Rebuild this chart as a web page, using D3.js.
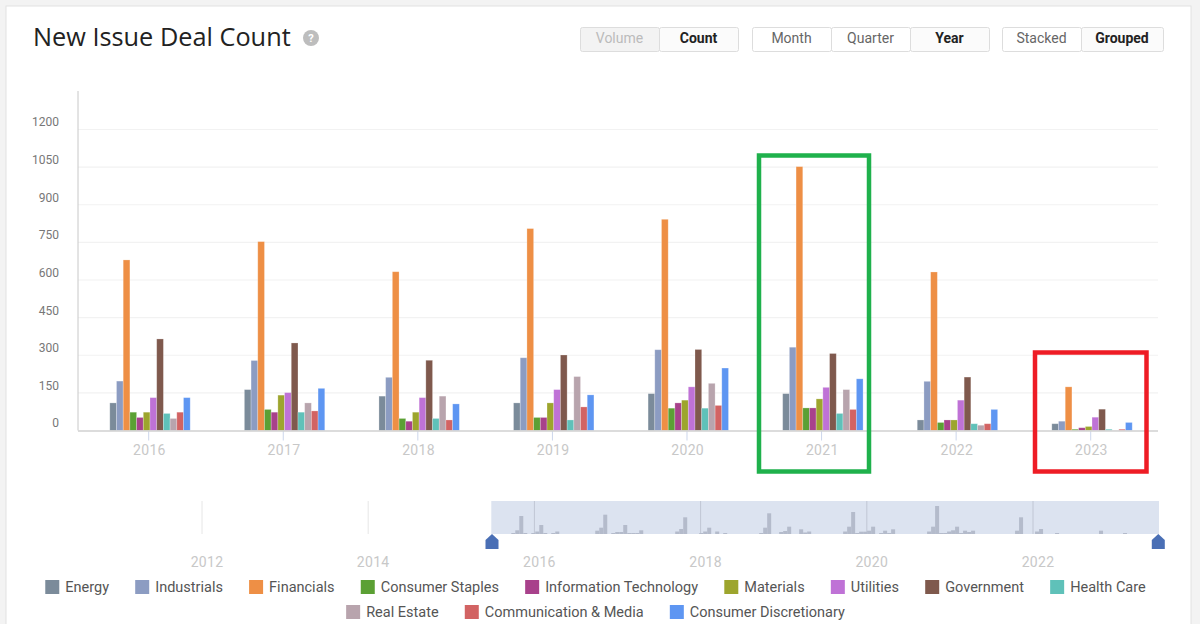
<!DOCTYPE html>
<html>
<head>
<meta charset="utf-8">
<title>New Issue Deal Count</title>
<script src="https://cdnjs.cloudflare.com/ajax/libs/d3/7.8.5/d3.min.js"></script>
<style>
  html, body { margin: 0; padding: 0; background: #f3f3f3; overflow: hidden; }
  text { font-family: Roboto, sans-serif; }
</style>
</head>
<body>
<svg id="chart" width="1200" height="624"></svg>
<script>
const years = ['2016','2017','2018','2019','2020','2021','2022','2023'];
const sectors = ['Energy','Industrials','Financials','Consumer Staples','Information Technology','Materials','Utilities','Government','Health Care','Real Estate','Communication & Media','Consumer Discretionary'];
const sectorColors = ['#7b8b9a','#8c9cc2','#ee8f45','#5ba034','#a8418b','#9da52d','#bf72d6','#7f594d','#5fc1b9','#b8a4ad','#d26363','#5e96f2'];

const energy = [110,163,137,110,147,147,42,27];
const industrials = [197,279,212,290,322,332,196,37];
const financials = [680,753,633,805,842,1052,632,174];
const staples = [73,84,48,52,89,90,32,5];
const infoTech = [52,73,37,52,110,90,42,11];
const materials = [73,141,73,110,121,126,42,16];
const utilities = [131,151,131,163,174,172,121,53];
const government = [365,349,280,301,323,307,213,85];
const healthCare = [68,73,48,42,89,68,27,5];
const realEstate = [48,110,137,215,188,163,21,1];
const commMedia = [73,78,42,94,100,84,27,5];
const consumerDisc = [131,168,106,142,249,206,84,32];
const seriesValues = [energy,industrials,financials,staples,infoTech,materials,utilities,government,healthCare,realEstate,commMedia,consumerDisc];

const yTicks = [0,150,300,450,600,750,900,1050,1200];

// overview strip under the chart, slot number and rough count per slot
const navSlots = [5,6,7,8,10,11,12,13,15,16,26,27,28,30,31,32,33,34,35,36,37,46,47,48,52,53,54,56,58,67,68,69,72,73,74,77,78,79,88,89,90,91,92,93,94,95,97,98,99,100,109,110,111,112,113,114,115,116,117,118,119,120,131,132,136,137,141,152,158];
const navCounts = [10,37,180,10,10,25,90,10,10,25,33,63,193,10,20,20,90,10,10,10,37,25,50,167,10,25,63,25,10,10,63,207,20,30,73,47,15,25,25,73,220,10,23,23,33,73,10,33,10,47,25,73,280,10,10,25,37,73,10,33,20,33,33,167,25,50,10,33,10];
const navYears = [2012,2014,2016,2018,2020,2022];

const buttonGroups = [
  [{label:'Volume', state:'off', w:79},{label:'Count', state:'on', w:79}],
  [{label:'Month', state:'', w:79},{label:'Quarter', state:'', w:79},{label:'Year', state:'on', w:79}],
  [{label:'Stacked', state:'', w:79},{label:'Grouped', state:'on', w:82}]
];
const buttonLefts = [580,752,1002];

const fig = {
  top: 129.5, bottom: 430.5, left: 78, right: 1158
};
const svg = d3.select('#chart');

// panel
svg.append('rect')
  .attr('x',6).attr('y',6).attr('width',1185).attr('height',640)
  .attr('fill','#fff')
  .attr('stroke','#e2e2e2');

var x = d3.scaleBand()
          .domain(years)
          .range([81.4,1158])
          ;
var inner = d3.scaleBand()
          .domain(sectors)
          .range([0,80.4])
          ;
var y = d3.scaleLinear()
          .domain([0,1200])
          .range([fig.bottom,fig.top])
          ;

// grid
svg.append('g')
  .selectAll('line')
  .data(yTicks.slice(1))
  .join('line')
    .attr('x1',fig.left)
    .attr('x2',fig.right)
    .attr('y1',d=> y(d))
    .attr('y2',d=> y(d))
    .attr('stroke','#f2f2f2')
    .attr('stroke-width',1.2)
;

// bars
svg.append('g')
  .selectAll('g')
  .data(seriesValues)
  .join('g')
    .attr('fill',(d,i)=> sectorColors[i])
    .attr('data-sector',(d,i)=> sectors[i])
    .each(function(values,i){
      d3.select(this)
        .selectAll('rect')
        .data(values)
        .join('rect')
          .attr('x',(d,j)=> x(years[j]) + 28.4 + inner(sectors[i]))
          .attr('y',d=> y(d))
          .attr('width',inner.bandwidth())
          .attr('height',d=> y(0) - y(d))
          .attr('stroke','#fff')
          .attr('stroke-opacity',0.3)
          .attr('stroke-width',0.8)
      ;
    })
;

// Axes
const yAxis = d3.axisLeft(y)
  .tickValues(yTicks)
  .tickFormat(d3.format('d'))
  .tickSize(0)
  .tickPadding(19)
  ;
const yG = svg.append('g')
  .attr('transform','translate(' + fig.left + ',0)')
  .call(yAxis)
  ;
yG.select('.domain').remove();
yG.selectAll('text')
  .attr('dy','-0.3em')
  .attr('fill','#777')
  .style('font-size','12px')
  ;
svg.append('line')
  .attr('x1',fig.left).attr('x2',fig.left)
  .attr('y1',91).attr('y2',fig.bottom)
  .attr('stroke','#c8c8c8')
;

const xAxis = d3.axisBottom(x)
  .tickSize(10)
  .tickPadding(5)
  ;
const xG = svg.append('g')
  .attr('transform','translate(0,' + fig.bottom + ')')
  .call(xAxis)
  ;
xG.select('.domain').remove();
xG.selectAll('.tick line').attr('stroke','#ccd6eb');
xG.selectAll('text')
  .attr('dx','0.7')
  .attr('fill','#c8c8c8')
  .style('font-size','14px')
  .style('letter-spacing','0.3px')
  ;
svg.append('line')
  .attr('x1',fig.left).attr('x2',fig.right)
  .attr('y1',fig.bottom + 0.5).attr('y2',fig.bottom + 0.5)
  .attr('stroke','#d0d0d0')
  .attr('stroke-width',1.6)
;

// title
svg.append('text')
  .attr('x',33)
  .attr('y',46)
  .attr('fill','#222')
  .style('font-family','"Open Sans", sans-serif')
  .style('font-size','25.3px')
  .text('New Issue Deal Count')
;
svg.append('circle')
  .attr('cx',311).attr('cy',38).attr('r',8)
  .attr('fill','#bdbdbd')
;
svg.append('text')
  .attr('x',311).attr('y',42)
  .attr('text-anchor','middle')
  .attr('fill','#fff')
  .style('font-size','11px')
  .style('font-weight','700')
  .text('?')
;

// toggle buttons
buttonGroups.forEach(function(group,g){
  let left = 0;
  group.forEach(function(d){ d.left = left; left += d.w; });
  const row = svg.append('g')
    .attr('transform','translate(' + buttonLefts[g] + ',27)');
  row.selectAll('rect')
    .data(group)
    .join('rect')
      .attr('x',d=> d.left + 0.5)
      .attr('y',0.5)
      .attr('width',d=> d.w)
      .attr('height',24)
      .attr('rx',2)
      .attr('fill',d=> d.state == 'off' ? '#f3f3f3' : d.state == 'on' ? '#fbfbfb' : '#fff')
      .attr('stroke','#ddd')
  ;
  row.selectAll('text')
    .data(group)
    .join('text')
      .attr('x',d=> d.left + d.w/2)
      .attr('y',16)
      .attr('text-anchor','middle')
      .attr('fill',d=> d.state == 'off' ? '#bbb' : d.state == 'on' ? '#222' : '#666')
      .style('font-size','14px')
      .style('font-weight',d=> d.state == 'on' ? '700' : '400')
      .text(d=> d.label)
  ;
});

// overview strip
var navX = d3.scaleLinear()
          .domain([2012,2022])
          .range([202,1033])
          ;
var navSlot = d3.scaleLinear()
          .domain([0,167])
          .range([491.3,1159])
          ;
var navY = d3.scaleLinear()
          .domain([0,330])
          .range([534,501])
          ;
svg.append('rect')
  .attr('x',navSlot(0)).attr('y',navY(330))
  .attr('width',navSlot(167) - navSlot(0))
  .attr('height',navY(0) - navY(330))
  .attr('fill','#dce3f0')
;
svg.append('g')
  .selectAll('line')
  .data(navYears)
  .join('line')
    .attr('x1',d=> navX(d))
    .attr('x2',d=> navX(d))
    .attr('y1',navY(330))
    .attr('y2',navY(0))
    .attr('stroke',d=> d < 2016 ? '#e6e6e6' : '#c0c6d4')
;
svg.append('g')
  .selectAll('rect')
  .data(navSlots)
  .join('rect')
    .attr('x',d=> navSlot(d))
    .attr('y',(d,i)=> navY(navCounts[i]))
    .attr('width',navSlot(1) - navSlot(0))
    .attr('height',(d,i)=> navY(0) - navY(navCounts[i]))
    .attr('fill','#b4bbcb')
;
svg.append('g')
  .selectAll('text')
  .data(navYears)
  .join('text')
    .attr('x',d=> navX(d) + 5)
    .attr('y',567)
    .attr('text-anchor','middle')
    .attr('fill','#c8c8c8')
    .style('font-size','14px')
    .style('letter-spacing','0.3px')
    .text(d=> d)
;
svg.append('g')
  .selectAll('path')
  .data([navSlot(0) + 0.7,navSlot(167) - 0.7])
  .join('path')
    .attr('transform',d=> 'translate(' + d + ',534)')
    .attr('d','M0,0 L6.5,6 L6.5,15 L-6.5,15 L-6.5,6 Z')
    .attr('fill','#4a6fb5')
;

// legend, two centred rows
const legendGap = 26.2;
const legendRows = [sectors.slice(0,9),sectors.slice(9)];
legendRows.forEach(function(names,r){
  const row = svg.append('g');
  let pos = 0;
  names.forEach(function(name){
    const item = row.append('g').attr('transform','translate(' + pos + ',0)');
    item.append('rect')
      .attr('y',-7).attr('width',14).attr('height',14)
      .attr('fill',sectorColors[sectors.indexOf(name)])
    ;
    const label = item.append('text')
      .attr('x',20).attr('y',5)
      .attr('fill','#555')
      .style('font-size','14.5px')
      .text(name)
    ;
    pos += 20 + label.node().getComputedTextLength() + legendGap;
  });
  row.attr('transform','translate(' + (595.5 - (pos - legendGap)/2) + ',' + (587 + r*25) + ')');
});

// highlight boxes on top of the chart
svg.append('rect')
  .attr('x',759).attr('y',155.5).attr('width',110).attr('height',316)
  .attr('fill','none')
  .attr('stroke','#1fb14c')
  .attr('stroke-width',4.5)
;
svg.append('rect')
  .attr('x',1035).attr('y',352.5).attr('width',111.5).attr('height',119)
  .attr('fill','none')
  .attr('stroke','#ee1c25')
  .attr('stroke-width',4.5)
;
</script>
</body>
</html>
